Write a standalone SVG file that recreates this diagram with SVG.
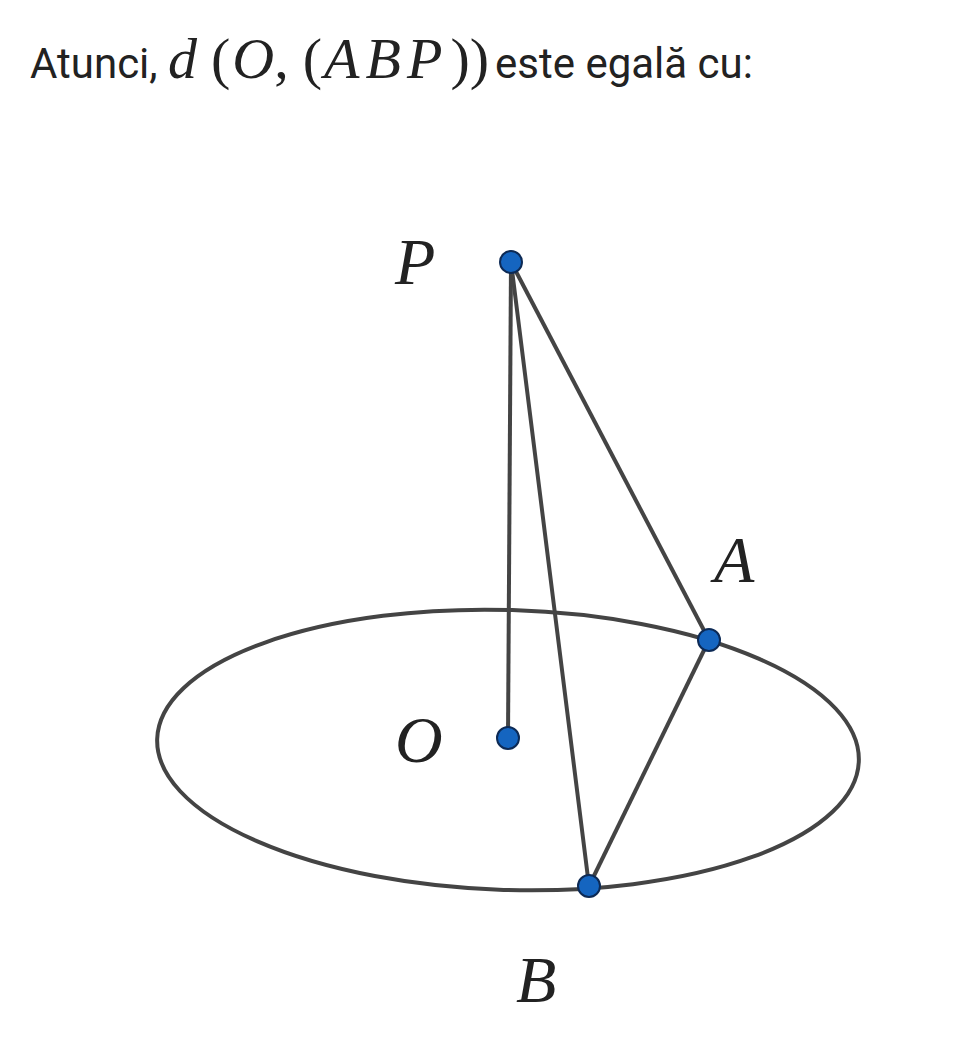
<svg xmlns="http://www.w3.org/2000/svg" width="959" height="1063" viewBox="0 0 959 1063">
<style>
.t{font-family:Roboto,"Liberation Sans",sans-serif;font-size:42px;fill:#222}
.m{font-family:"Liberation Serif",serif;font-style:italic;font-size:58px;fill:#222}
.mu{font-family:"Liberation Serif",serif;font-size:58px;fill:#222}
.lbl{font-family:"Liberation Serif",serif;font-style:italic;font-size:66px;fill:#222}
.ln{stroke:#444;stroke-width:4;fill:none}
.pt{fill:#1565c0;stroke:#0d2a55;stroke-width:2}
</style>
<rect width="959" height="1063" fill="#fff"/>
<text x="30" y="78" class="t">Atunci, <tspan class="m">d</tspan><tspan class="mu" dx="14">(</tspan><tspan class="m" dx="2">O</tspan><tspan class="mu">,</tspan><tspan class="mu" dx="14">(</tspan><tspan class="m" letter-spacing="6" dx="2">ABP</tspan><tspan class="mu" dx="2">))</tspan><tspan dx="6">este egală cu:</tspan></text>
<ellipse cx="508" cy="750" rx="351" ry="140" transform="rotate(1.8 508 750)" class="ln"/>
<g id="connectors">
<line x1="511" y1="262" x2="508" y2="738" class="ln"/>
<line x1="511" y1="262" x2="589" y2="886" class="ln"/>
<line x1="511" y1="262" x2="709" y2="640" class="ln"/>
<line x1="709" y1="640" x2="589" y2="886" class="ln"/>
</g>
<g id="P"><circle cx="511" cy="262" r="11" class="pt"/><text x="395" y="284" class="lbl">P</text></g>
<g id="O"><circle cx="508" cy="738" r="11" class="pt"/><text x="395" y="762" class="lbl">O</text></g>
<g id="A"><circle cx="709" cy="640" r="11" class="pt"/><text x="714" y="582" class="lbl">A</text></g>
<g id="B"><circle cx="589" cy="886" r="11" class="pt"/><text x="516" y="1002" class="lbl">B</text></g>
</svg>
